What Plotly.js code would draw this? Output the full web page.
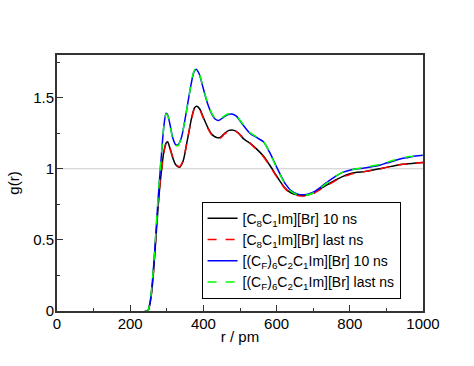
<!DOCTYPE html>
<html><head><meta charset="utf-8">
<script src="https://cdn.plot.ly/plotly-3.0.1.min.js"></script>
<style>body{margin:0;background:#fff}#c{width:474px;height:366px}</style>
</head><body><div id="c"></div>
<script>
const rC8 = [240,248,252,256,262,268,274,280,286,292,298,302,308,316,324,334,344,356,368,376,382,390,400,412,424,436,446,458,470,484,496,510,527,545,564,580,595,610,625,640,660,682,700,720,740,760,780,800,820,840,860,882,900,920,940,960,980,1000];
const gC8_10 = [0,0,0.03,0.08,0.22,0.43,0.65,0.85,1.0,1.12,1.18,1.19,1.15,1.08,1.03,1.01,1.05,1.2,1.36,1.43,1.44,1.42,1.36,1.29,1.24,1.22,1.22,1.25,1.27,1.27,1.25,1.21,1.18,1.14,1.09,1.03,0.97,0.91,0.86,0.83,0.815,0.815,0.83,0.86,0.89,0.92,0.945,0.965,0.975,0.98,0.99,1.0,1.01,1.02,1.03,1.035,1.04,1.045];
const gC8_last = [0,0,0.03,0.085,0.225,0.44,0.66,0.86,1.0,1.115,1.175,1.185,1.15,1.085,1.035,1.015,1.055,1.2,1.355,1.425,1.435,1.415,1.355,1.285,1.235,1.215,1.215,1.245,1.265,1.27,1.25,1.215,1.18,1.135,1.085,1.025,0.965,0.905,0.855,0.825,0.81,0.81,0.825,0.855,0.885,0.915,0.94,0.96,0.97,0.98,0.99,1.0,1.01,1.02,1.03,1.035,1.04,1.045];
const rCF = [240,248,252,256,262,268,274,280,286,292,298,302,308,316,324,331,340,352,364,374,380,388,398,410,422,432,442,454,466,478,490,505,527,545,564,580,595,610,625,640,660,682,700,720,740,760,780,800,820,840,860,882,900,920,940,960,980,1000];
const gCF_10 = [0,0,0.03,0.09,0.25,0.46,0.7,0.92,1.12,1.3,1.39,1.38,1.32,1.22,1.17,1.17,1.22,1.38,1.56,1.68,1.7,1.67,1.58,1.47,1.39,1.35,1.34,1.36,1.38,1.385,1.37,1.32,1.25,1.22,1.19,1.12,1.04,0.96,0.89,0.845,0.82,0.82,0.835,0.87,0.91,0.945,0.975,0.99,1.0,1.005,1.015,1.025,1.04,1.055,1.07,1.08,1.09,1.095];
const gCF_last = [0,0,0.035,0.095,0.255,0.47,0.71,0.93,1.125,1.3,1.385,1.375,1.315,1.215,1.165,1.165,1.22,1.38,1.56,1.685,1.705,1.675,1.585,1.475,1.395,1.355,1.345,1.365,1.385,1.385,1.37,1.325,1.255,1.225,1.19,1.12,1.035,0.955,0.885,0.84,0.815,0.815,0.83,0.865,0.905,0.945,0.975,0.99,1.0,1.01,1.02,1.03,1.045,1.06,1.075,1.085,1.09,1.095];
const names = ['[C<sub>8</sub>C<sub>1</sub>Im][Br] 10 ns','[C<sub>8</sub>C<sub>1</sub>Im][Br] last ns','[(C<sub>F</sub>)<sub>6</sub>C<sub>2</sub>C<sub>1</sub>Im][Br] 10 ns','[(C<sub>F</sub>)<sub>6</sub>C<sub>2</sub>C<sub>1</sub>Im][Br] last ns'];
const xTicks = [0,200,400,600,800,1000];
const yTicks = [0,0.5,1,1.5];
const yTickText = ['0','0.5','1','1.5'];

const mk = (x,y,name,color,dash)=>({x:x,y:y,name:name,type:'scatter',mode:'lines',line:{color:color,width:1.5,dash:dash,shape:'spline',smoothing:0.8}});
const data = [
  mk(rC8,gC8_10,names[0],'#000000','solid'),
  mk(rC8,gC8_last,names[1],'#ff0000','dash'),
  mk(rCF,gCF_10,names[2],'#0000ff','solid'),
  mk(rCF,gCF_last,names[3],'#00ff00','dash')
];
const fnt = {family:'Liberation Sans, Arial, sans-serif', size:15, color:'#000'};
const layout = {
  width:474,height:366,
  margin:{l:57,r:51,t:55,b:55},
  paper_bgcolor:'#fff',plot_bgcolor:'#fff',
  font:fnt,
  showlegend:true,
  legend:{x:0.395,y:0.427,xanchor:'left',yanchor:'top',bgcolor:'#fff',bordercolor:'#000',borderwidth:1,font:{family:fnt.family,size:14,color:'#000'},tracegroupgap:0,itemwidth:30},
  xaxis:{range:[0,1000],tickvals:xTicks,ticks:'inside',ticklen:6,tickcolor:'#333',ticklabelstandoff:-2,showgrid:false,zeroline:false,showline:true,linecolor:'#333',linewidth:2,mirror:true,
    minor:{dtick:100,ticks:'inside',ticklen:3,tickcolor:'#333',showgrid:false},
    title:{text:'r / pm',font:fnt,standoff:0}},
  yaxis:{range:[0,1.8],tickvals:yTicks,ticktext:yTickText,ticks:'inside',ticklen:6,tickcolor:'#333',ticklabelstandoff:-2,showgrid:false,zeroline:false,showline:true,linecolor:'#333',linewidth:2,mirror:true,
    minor:{dtick:0.25,ticks:'inside',ticklen:3,tickcolor:'#333',showgrid:false},
    title:{text:'g(r)',font:fnt,standoff:10}},
  shapes:[{type:'line',xref:'paper',yref:'y',x0:0,x1:1,y0:1,y1:1,line:{color:'#cccccc',width:1},layer:'below'}]
};
Plotly.newPlot('c',data,layout,{displayModeBar:false,staticPlot:true});
</script></body></html>
